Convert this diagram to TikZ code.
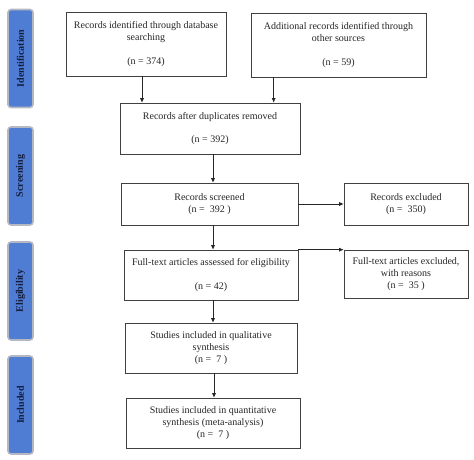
\documentclass[tikz,border=0pt]{standalone}
\usepackage{fontspec}
\setmainfont{Liberation Serif}
\usetikzlibrary{arrows.meta}
\definecolor{lblue}{HTML}{4F7DD3}
\definecolor{lgray}{HTML}{B4B8C2}
\definecolor{lnavy}{HTML}{141C3C}
\tikzset{
  box/.style={draw=black!75, line width=0.6pt, fill=white, align=center, inner sep=2pt,
    font=\fontsize{10}{11.6}\selectfont, text=black!85},
  phase/.style={draw=lgray, line width=1.6pt, fill=lblue, rounded corners=3pt,
    minimum width=98pt, minimum height=25pt, rotate=90,
    font=\fontsize{10}{11}\selectfont\bfseries, text=lnavy},
  arr/.style={-{Latex[length=4.5pt,width=4pt]}, line width=0.6pt, black!85}
}
\begin{document}
\begin{tikzpicture}[x=1pt,y=-1pt]
\useasboundingbox (0,0) rectangle (474,460);
% phase labels
\node[phase] (p1) at (20.5,58.5) {Identification};
\node[phase] (p2) at (20.5,176) {Screening};
\node[phase] (p3) at (20.5,291) {Eligibility};
\node[phase] (p4) at (20.5,405) {Included};
% boxes
\node[box, minimum width=160pt, minimum height=64pt] (b1) at (146,44)
  {Records identified through database\\ searching\\[12pt] (n = 374)};
\node[box, minimum width=175pt, minimum height=64pt] (b2) at (338.5,45)
  {Additional records identified through\\ other sources\\[12pt] (n = 59)};
\node[box, minimum width=180pt, minimum height=51pt] (b3) at (210,128.5)
  {Records after duplicates removed\\[12pt] (n = 392)};
\node[box, minimum width=177pt, minimum height=42pt] (b4) at (209.5,204)
  {Records screened\\ (n =\ \ 392 )};
\node[box, minimum width=124pt, minimum height=42pt] (e1) at (406,204)
  {Records excluded\\ (n =\ \ 350)};
\node[box, minimum width=174pt, minimum height=50pt] (b5) at (211,275)
  {Full-text articles assessed for eligibility\\[12pt] (n = 42)};
\node[box, minimum width=124pt, minimum height=48pt] (e2) at (406,274)
  {Full-text articles excluded,\\ with reasons\\ (n =\ \ 35 )};
\node[box, minimum width=172pt, minimum height=50pt] (b6) at (211,348)
  {Studies included in qualitative\\ synthesis\\ (n =\ \ 7 )};
\node[box, minimum width=174pt, minimum height=50pt] (b7) at (213,423)
  {Studies included in quantitative\\ synthesis (meta-analysis)\\ (n =\ \ 7 )};
% connectors
\coordinate (a1) at ([xshift=-4pt]b1.south);
\coordinate (a2) at ([xshift=23pt]b2.south west);
\draw[arr] (a1) -- (a1 |- b3.north);
\draw[arr] (a2) -- (a2 |- b3.north);
\coordinate (a3) at ([xshift=3pt]b3.south);
\draw[arr] (a3) -- (a3 |- b4.north);
\draw[arr] (b4.east |- e1.west) -- (e1.west);
\coordinate (a4) at ([xshift=3.5pt]b4.south);
\draw[arr] (a4) -- (a4 |- b5.north);
\draw[arr] (b5.north east) -- (b5.north east -| e2.west);
\coordinate (a5) at ([xshift=2pt]b5.south);
\draw[arr] (a5) -- (a5 |- b6.north);
\coordinate (a6) at ([xshift=3pt]b6.south);
\draw[arr] (a6) -- (a6 |- b7.north);
\end{tikzpicture}
\end{document}
